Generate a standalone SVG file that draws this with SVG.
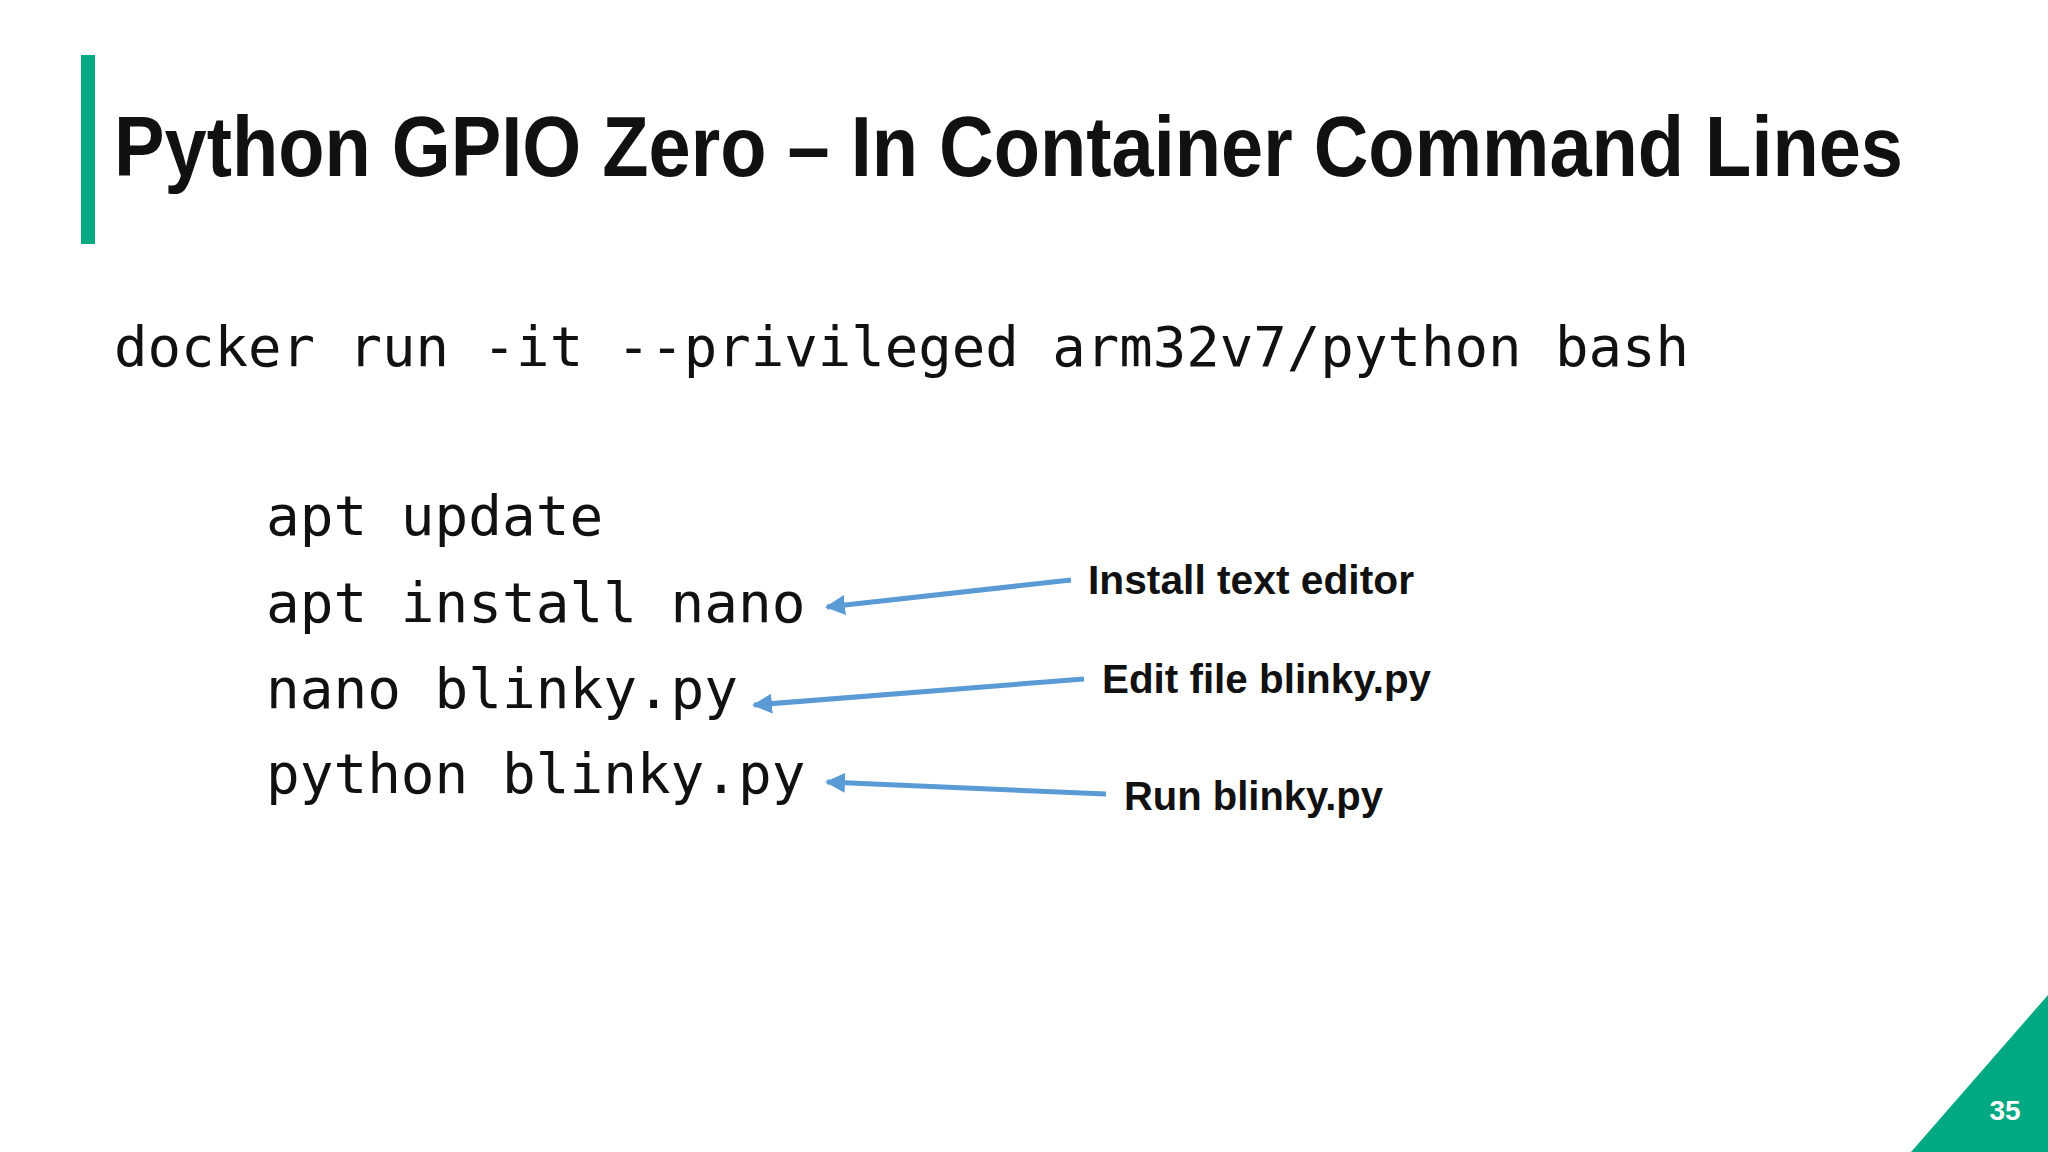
<svg xmlns="http://www.w3.org/2000/svg" width="2048" height="1152" viewBox="0 0 2048 1152">
<defs>
<style>
.code{font-family:"DejaVu Sans Mono","Liberation Mono",monospace;font-size:56px;fill:#111}
.lbl{font-family:"Liberation Sans Narrow","Liberation Sans",sans-serif;font-weight:bold;font-size:40px;fill:#111}
.arr{stroke:#5B9BD5;stroke-width:5;fill:none;marker-end:url(#ah)}
</style>
<marker id="ah" viewBox="0 0 10 10" refX="9" refY="5" markerWidth="4" markerHeight="4" orient="auto"><path d="M0,0L10,5L0,10z" fill="#5B9BD5"/></marker>
</defs>
<rect width="2048" height="1152" fill="#fff"/>
<rect x="81" y="55" width="14" height="189" fill="#01A982"/>
<text x="114" y="176" font-family="Liberation Sans Narrow, Liberation Sans, sans-serif" font-weight="bold" font-size="86" fill="#111" textLength="1789" lengthAdjust="spacingAndGlyphs">Python GPIO Zero – In Container Command Lines</text>
<g id="code">
<text class="code" x="114" y="366" textLength="1575" lengthAdjust="spacingAndGlyphs">docker run -it --privileged arm32v7/python bash</text>
<text class="code" x="266" y="535">apt update</text>
<text class="code" x="266" y="622">apt install nano</text>
<text class="code" x="266" y="708">nano blinky.py</text>
<text class="code" x="266" y="793">python blinky.py</text>
</g>
<g id="labels">
<text class="lbl" x="1088" y="594" textLength="326" lengthAdjust="spacingAndGlyphs">Install text editor</text>
<text class="lbl" x="1102" y="693" textLength="329" lengthAdjust="spacingAndGlyphs">Edit file blinky.py</text>
<text class="lbl" x="1124" y="810" textLength="259" lengthAdjust="spacingAndGlyphs">Run blinky.py</text>
</g>
<g id="connectors">
<line class="arr" x1="1071" y1="580" x2="827" y2="607"/>
<line class="arr" x1="1084" y1="679" x2="754" y2="705"/>
<line class="arr" x1="1106" y1="794" x2="827" y2="782"/>
</g>
<polygon points="1911,1152 2048,995 2048,1152" fill="#01A982"/>
<text x="2005" y="1120" text-anchor="middle" font-family="Liberation Sans, sans-serif" font-weight="bold" font-size="28" fill="#fff">35</text>
</svg>
